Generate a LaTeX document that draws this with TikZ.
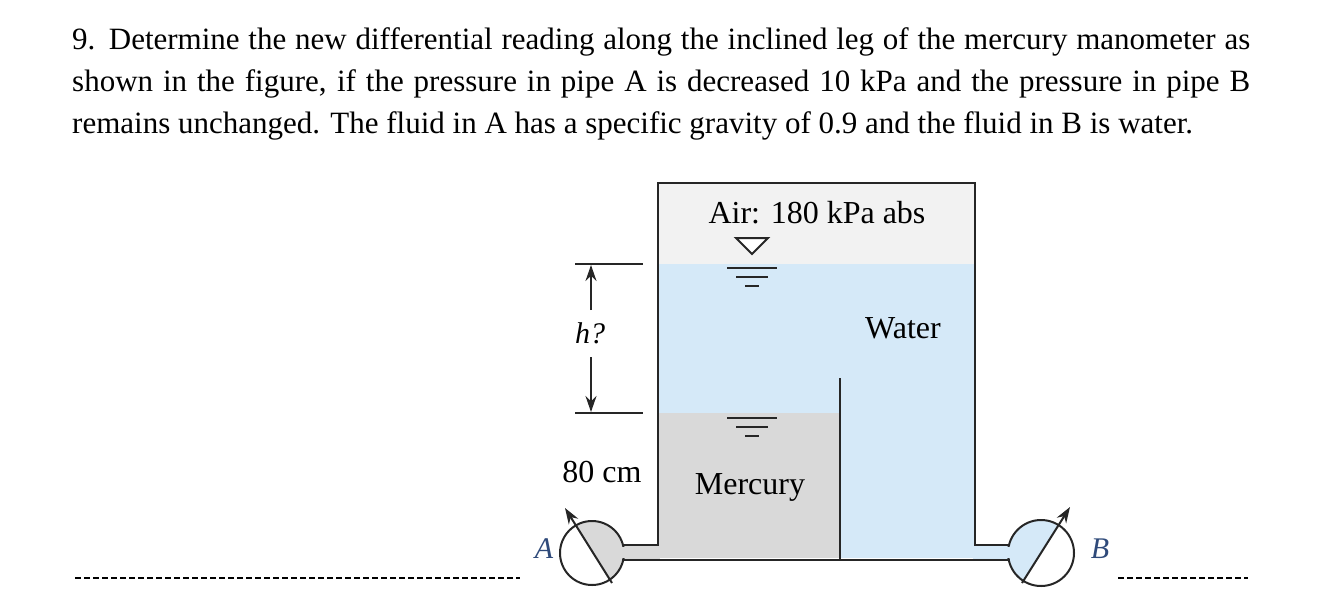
\documentclass[tikz,border=0pt]{standalone}
\usepackage{fontspec}
\setmainfont{Liberation Serif}
\usetikzlibrary{arrows.meta}
\definecolor{airc}{HTML}{F2F2F2}
\definecolor{waterc}{HTML}{D5E9F8}
\definecolor{mercc}{HTML}{D9D9D9}
\definecolor{labc}{HTML}{2F4A7A}
\begin{document}
\begin{tikzpicture}[x=1pt,y=-1pt,
  wall/.style={line width=2.2pt,black!85},
  thin/.style={line width=2pt,black!85},
  lab/.style={font=\fontsize{32}{36}\selectfont,inner sep=0pt},
  ttl/.style={font=\fontsize{31}{42}\selectfont,inner sep=0pt,anchor=west}]
\useasboundingbox (0,0) rectangle (1333,606);
% title
\node[ttl] (t1) at (72,42) {\makebox[1178pt][s]{9. Determine the new differential reading along the inclined leg of the mercury manometer as}};
\node[ttl] (t2) at (72,84) {\makebox[1178pt][s]{shown in the figure, if the pressure in pipe A is decreased 10 kPa and the pressure in pipe B}};
\node[ttl] (t3) at (72,126) {remains unchanged. The fluid in A has a specific gravity of 0.9 and the fluid in B is water.};
% fills
\fill[airc] (658,183) rectangle (975,264);
\fill[waterc] (658,264) rectangle (975,558);
\fill[mercc] (658,413) rectangle (840,558);
\fill[mercc] (615,545) rectangle (660,560);
\fill[waterc] (973,545) rectangle (1015,560);
% circle fills
\begin{scope}
\clip (592,553) circle (32);
\fill[mercc] (565,508) -- (612,583) -- (640,583) -- (640,508) -- cycle;
\end{scope}
\begin{scope}
\clip (1041,553) circle (33);
\fill[waterc] (1070,507) -- (1022,583) -- (1000,583) -- (1000,507) -- cycle;
\end{scope}
% tank walls and pipes
\draw[wall] (622,545) -- (658,545) -- (658,183) -- (975,183) -- (975,545) -- (1010,545);
\draw[wall] (622,560) -- (1010,560);
\draw[wall] (840,378) -- (840,560);
\draw[thin] (592,553) circle (32);
\draw[thin] (1041,553) circle (33);
\fill[mercc] (616,547) rectangle (640,558);
\fill[waterc] (1000,547) rectangle (1012,558);
\draw[thin,-{Stealth[length=16pt,width=11pt]}] (612,583) -- (565,508);
\draw[thin,-{Stealth[length=16pt,width=11pt]}] (1022,583) -- (1070,507);
\node[lab,text=labc,font=\fontsize{30}{34}\selectfont\itshape] (la) at (544,549) {A};
\node[lab,text=labc,font=\fontsize{30}{34}\selectfont\itshape] (lb) at (1100,549) {B};
% dashed
\coordinate (d1) at (75,578); \coordinate (d2) at (520,578);
\coordinate (d3) at (1118,578); \coordinate (d4) at (1248,578);
\draw[line width=1.8pt,dash pattern=on 6pt off 3pt] (d1) -- (d2);
\draw[line width=1.8pt,dash pattern=on 6pt off 3pt] (d3) -- (d4);
% surface marks
\draw[thin,fill=white] (736,238) -- (768,238) -- (752,254) -- cycle;
\foreach \y/\w in {268/25,277/16,286/7} \draw[thin] (752-\w,\y) -- (752+\w,\y);
\foreach \y/\w in {418/25,427/16,436/7} \draw[thin] (752-\w,\y) -- (752+\w,\y);
% h dimension
\draw[thin] (575,264) -- (643,264);
\draw[thin] (575,413) -- (643,413);
\node[lab,font=\fontsize{30}{34}\selectfont\itshape] (h) at (590,333) {h?};
\draw[thin,-{Stealth[length=16pt,width=11pt]}] (591,310) -- (591,265);
\draw[thin,-{Stealth[length=16pt,width=11pt]}] (591,357) -- (591,412);
\node[lab] (air) at (817,213) {Air: 180 kPa abs};
\node[lab] (wat) at (903,328) {Water};
\node[lab] (mer) at (750,487) {Mercury};
\node[lab] (cm) at (602,472) {80 cm};
\end{tikzpicture}
\end{document}
